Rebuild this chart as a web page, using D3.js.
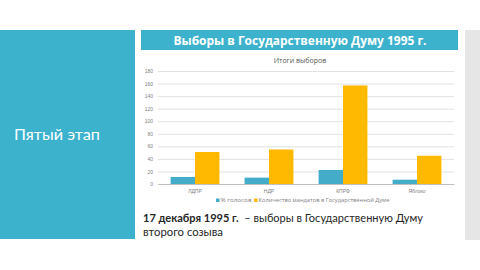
<!DOCTYPE html>
<html>
<head>
<meta charset="utf-8">
<script src="https://cdn.jsdelivr.net/npm/d3@7"></script>
<style>
  body { margin: 0; background: #fff; }
  svg { display: block; font-family: "Open Sans", sans-serif; }
</style>
</head>
<body>
<div class="chart"></div>
<script>
// data
var parties = ["ЛДПР", "НДР", "КПРФ", "Яблоко"];
var votes = [11.18, 10.13, 22.3, 6.89];
var seats = [51, 55, 157, 45];
var seriesNames = ["% голосов", "Количество мандатов в Государственной Думе"];
var yTicks = [0, 20, 40, 60, 80, 100, 120, 140, 160, 180];

var svgWidth = 480;
var svgHeight = 270;

var blue = "#3cb2cd";
var barBlue = "#43adc9";
var gold = "#ffb900";

var svg = d3.select(".chart")
  .append("svg")
  .attr("width", svgWidth)
  .attr("height", svgHeight);

// left panel
svg.append("rect")
  .attr("x", 0).attr("y", 30)
  .attr("width", 135).attr("height", 209)
  .attr("fill", blue);

svg.append("text")
  .attr("x", 14).attr("y", 140)
  .attr("fill", "#fff")
  .attr("font-family", "Lato, sans-serif")
  .attr("font-size", "16px")
  .attr("textLength", 86)
  .attr("lengthAdjust", "spacingAndGlyphs")
  .text("Пятый этап");

// right gray strip
svg.append("rect")
  .attr("x", 465).attr("y", 30)
  .attr("width", 15).attr("height", 210)
  .attr("fill", "#e6e6e6");

// title bar
svg.append("rect")
  .attr("x", 141).attr("y", 30)
  .attr("width", 317).attr("height", 20)
  .attr("fill", blue);

svg.append("text")
  .attr("x", 300).attr("y", 45)
  .attr("text-anchor", "middle")
  .attr("fill", "#fff")
  .attr("font-weight", "bold")
  .attr("font-size", "12px")
  .attr("textLength", 253)
  .attr("lengthAdjust", "spacingAndGlyphs")
  .text("Выборы в Государственную Думу 1995 г.");

// chart title
svg.append("text")
  .attr("x", 300).attr("y", 63)
  .attr("text-anchor", "middle")
  .attr("fill", "#595959")
  .attr("font-size", "7px")
  .text("Итоги выборов");

// scales
var x0 = d3.scaleBand()
  .domain(parties)
  .range([158, 454]);

var x1 = d3.scaleBand()
  .domain([0, 1])
  .range([x0.bandwidth() * 0.17, x0.bandwidth() * 0.83]);

var y = d3.scaleLinear()
  .domain([0, 180])
  .range([184, 71]);

// gridlines + y labels
var leftAxis = d3.axisLeft(y)
  .tickValues(yTicks)
  .tickSize(-(454 - 158))
  .tickPadding(5);

var yAxis = svg.append("g")
  .attr("transform", "translate(158,0)")
  .call(leftAxis);

yAxis.select(".domain").remove();
yAxis.selectAll("line")
  .attr("stroke", "#d9d9d9")
  .attr("stroke-width", 0.8);
yAxis.selectAll("text")
  .attr("fill", "#7f7f7f")
  .attr("font-size", "5px");

// x axis
var bottomAxis = d3.axisBottom(x0).tickSize(0).tickPadding(5);
var xAxis = svg.append("g")
  .attr("transform", "translate(0,184)")
  .call(bottomAxis);
xAxis.select(".domain").attr("stroke", "#bfbfbf");
xAxis.selectAll("text")
  .attr("fill", "#7f7f7f")
  .attr("font-size", "5px");

// bars
var groups = svg.append("g")
  .selectAll("g")
  .data(parties)
  .enter()
  .append("g")
  .attr("transform", d => `translate(${x0(d)},0)`);

groups.append("rect")
  .attr("x", x1(0))
  .attr("width", x1.bandwidth())
  .attr("y", (d, i) => y(votes[i]))
  .attr("height", (d, i) => y(0) - y(votes[i]))
  .attr("fill", barBlue);

groups.append("rect")
  .attr("x", x1(1))
  .attr("width", x1.bandwidth())
  .attr("y", (d, i) => y(seats[i]))
  .attr("height", (d, i) => y(0) - y(seats[i]))
  .attr("fill", gold);

// legend
var legend = svg.append("g").attr("transform", "translate(216,202)");
legend.append("rect").attr("x", 0).attr("y", -3.5).attr("width", 3.5).attr("height", 3.5).attr("fill", barBlue);
legend.append("text").attr("x", 4.5).attr("y", 0).attr("font-size", "5px").attr("fill", "#7f7f7f")
  .attr("textLength", 31).attr("lengthAdjust", "spacingAndGlyphs").text(seriesNames[0]);
legend.append("rect").attr("x", 38).attr("y", -3.5).attr("width", 3.5).attr("height", 3.5).attr("fill", gold);
legend.append("text").attr("x", 42.5).attr("y", 0).attr("font-size", "5px").attr("fill", "#7f7f7f")
  .attr("textLength", 131).attr("lengthAdjust", "spacingAndGlyphs").text(seriesNames[1]);

// caption below
var cap = svg.append("text")
  .attr("x", 143).attr("y", 222)
  .attr("font-family", "Lato, sans-serif")
  .attr("font-size", "12px")
  .attr("fill", "#262626")
  .attr("textLength", 280)
  .attr("lengthAdjust", "spacingAndGlyphs");
cap.append("tspan").attr("font-weight", "bold").text("17 декабря 1995 г.");
cap.append("tspan").attr("dx", 6).text("– выборы в Государственную Думу");

svg.append("text")
  .attr("x", 143).attr("y", 236)
  .attr("font-family", "Lato, sans-serif")
  .attr("font-size", "12px")
  .attr("fill", "#262626")
  .attr("textLength", 80)
  .attr("lengthAdjust", "spacingAndGlyphs")
  .text("второго созыва");
</script>
</body>
</html>
